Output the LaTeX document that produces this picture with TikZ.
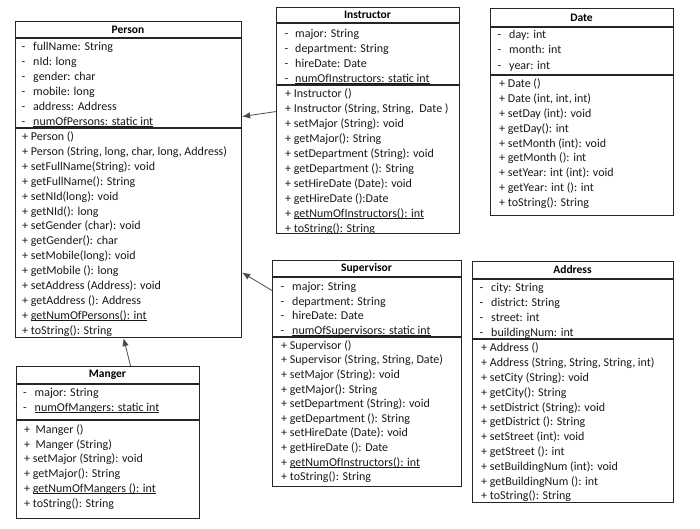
\documentclass[tikz,border=0pt]{standalone}
\usepackage{fontspec}
\setmainfont{Carlito}
\usetikzlibrary{arrows.meta}
\tikzset{
  boxline/.style={draw=black!85, line width=1.1pt},
  titletxt/.style={font=\fontsize{11.5}{13}\selectfont\bfseries, inner sep=0},
  membertxt/.style={font=\fontsize{12}{14}\selectfont, inner sep=0, anchor=base west, text=black!90},
  arr/.style={draw=black!70, line width=0.8pt, -{Latex[length=8pt,width=6.5pt]}}
}
\newcommand\ul[1]{\setbox0\hbox{#1}\rlap{\rule[-1.6pt]{\wd0}{0.6pt}}\box0}
% name, left, top, right, titlediv, attrdiv, bottom, title
\newcommand\umlbox[8]{%
  \node[boxline, inner sep=0, anchor=north west, minimum width={#4-#2}, minimum height={#7-#3}] (#1) at (#2,#3) {};
  \draw[boxline] (#2,#5) -- (#4,#5);
  \draw[boxline] (#2,#6) -- (#4,#6);
  \node[titletxt] (#1-title) at ({(#2+#4)/2},{(#3+#5)/2}) {#8};
}
% dash x, text x, first y, pitch, list
\newcommand\attrlist[5]{%
  \foreach \t [count=\i from 0] in {#5} {
    \node[membertxt] at (#1,{#3+#4*\i+4.2}) {-};
    \node[membertxt] at (#2,{#3+#4*\i+4.2}) {\t};
  }
}
% x, first y, pitch, list
\newcommand\methlist[4]{%
  \foreach \t [count=\i from 0] in {#4} {
    \node[membertxt] at (#1,{#2+#3*\i+4.2}) {\t};
  }
}
\begin{document}
\begin{tikzpicture}[x=1pt,y=-1pt]
\useasboundingbox (0,0) rectangle (700,529);
\fill[white] (0,0) rectangle (700,529);

% Person
\umlbox{person}{15}{21}{241}{38}{128}{337}{Person}
\attrlist{21.5}{33}{46.3}{15}{fullName: String, nId: long, gender: char, mobile: long, address: Address, \ul{numOfPersons: static int}}
\methlist{22}{136.5}{14.87}{+ Person (), {+ Person (String, long, char, long, Address)}, + setFullName(String): void, + getFullName(): String, + setNId(long): void, + getNId(): long, + setGender (char): void, + getGender(): char, + setMobile(long): void, + getMobile (): long, + setAddress (Address): void, + getAddress (): Address, + \ul{getNumOfPersons(): int}, + toString(): String}

% Instructor
\umlbox{instructor}{276}{7}{459}{23}{85}{233}{Instructor}
\attrlist{284.5}{295}{33.3}{15}{major: String, department: String, hireDate: Date, \ul{numOfInstructors: static int}}
\methlist{285}{93.3}{15}{+ Instructor (), {+ Instructor (String, String,\ \ Date )}, + setMajor (String): void, + getMajor(): String, + setDepartment (String): void, + getDepartment (): String, + setHireDate (Date): void, + getHireDate ():Date, + \ul{getNumOfInstructors(): int}, + toString(): String}

% Date
\umlbox{date}{490}{8}{673}{27}{75}{215}{Date}
\attrlist{497.5}{509}{34.3}{15.3}{day: int, month: int, year: int}
\methlist{499}{83.3}{14.9}{+ Date (), {+ Date (int, int, int)}, + setDay (int): void, + getDay(): int, + setMonth (int): void, + getMonth (): int, + setYear: int (int): void, + getYear: int (): int, + toString(): String}

% Supervisor
\umlbox{supervisor}{272}{260}{461}{277}{337}{486}{Supervisor}
\attrlist{280.5}{292}{286.7}{14.5}{major: String, department: String, hireDate: Date, \ul{numOfSupervisors: static int}}
\methlist{281}{345}{14.6}{+ Supervisor (), {+ Supervisor (String, String, Date)}, + setMajor (String): void, + getMajor(): String, + setDepartment (String): void, + getDepartment (): String, + setHireDate (Date): void, + getHireDate (): Date, + \ul{getNumOfInstructors(): int}, + toString(): String}

% Address
\umlbox{address}{472}{261}{673}{279}{339}{502}{Address}
\attrlist{479.5}{491}{287.7}{14.7}{city: String, district: String, street: int, buildingNum: int}
\methlist{481}{347.7}{14.8}{+ Address (), {+ Address (String, String, String, int)}, + setCity (String): void, + getCity(): String, + setDistrict (String): void, + getDistrict (): String, + setStreet (int): void, + getStreet (): int, + setBuildingNum (int): void, + getBuildingNum (): int, + toString(): String}

% Manger
\umlbox{manger}{16}{366}{199}{384}{420}{518}{Manger}
\attrlist{23}{34.5}{392}{15}{major: String, \ul{numOfMangers: static int}}
\methlist{24}{429}{14.8}{+\ \ Manger (), +\ \ Manger (String), + setMajor (String): void, + getMajor(): String, + \ul{getNumOfMangers (): int}, + toString(): String}

% inheritance / association arrows
\draw[arr] ([yshift=9pt]instructor.west) -- ([yshift=63pt]person.east);
\draw[arr] ([yshift=83pt]supervisor.west) -- ([yshift=-93pt]person.east);
\draw[arr] ([xshift=22.5pt]manger.north) -- ([xshift=-5pt]person.south);
\end{tikzpicture}
\end{document}
